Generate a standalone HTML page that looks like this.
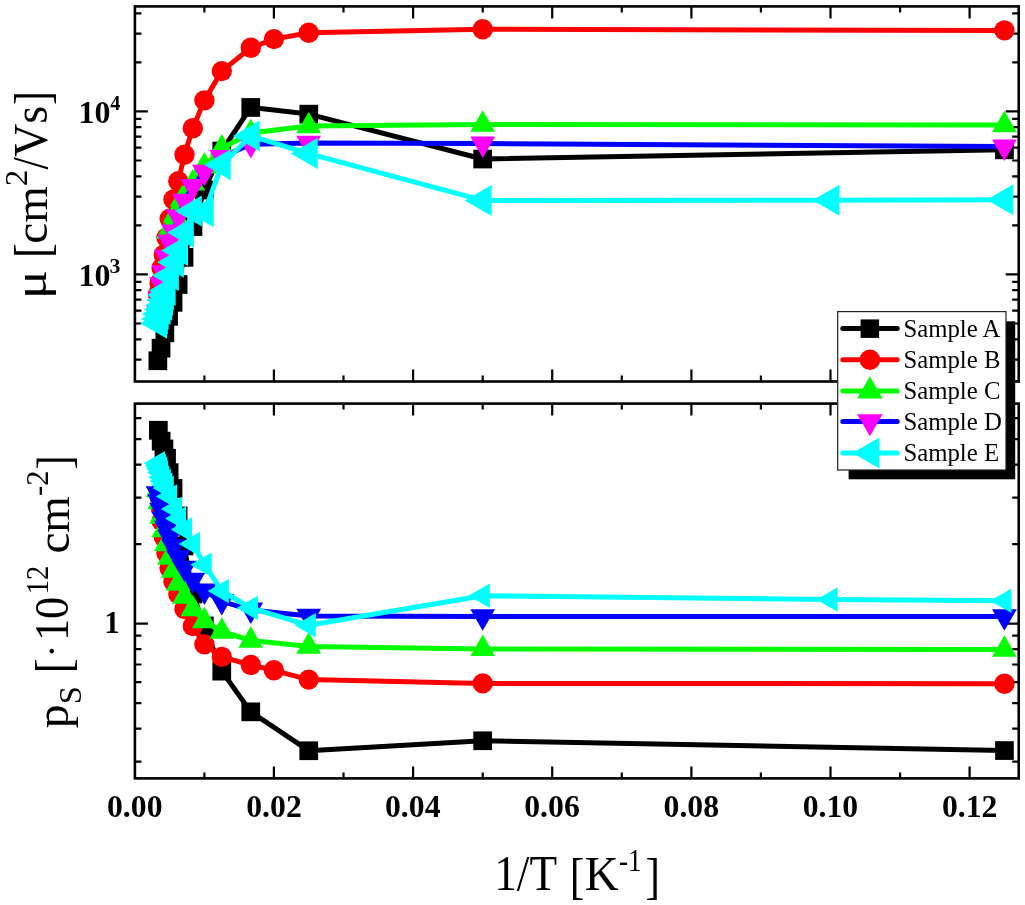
<!DOCTYPE html>
<html><head><meta charset="utf-8"><title>Mobility and sheet carrier density vs 1/T</title>
<style>
html,body{margin:0;padding:0;background:#fff}
svg{display:block}
.s{font-family:"Liberation Serif","DejaVu Serif",serif;fill:#000}
.b{font-family:"Liberation Serif","DejaVu Serif",serif;font-weight:bold;fill:#000}
</style></head><body>
<svg width="1025" height="905" viewBox="0 0 1025 905">
<rect width="1025" height="905" fill="#fff"/>
<g id="top">
<rect x="134.9" y="6.4" width="883.8" height="375.1" fill="none" stroke="#000" stroke-width="2.6"/>
<path d="M204.4 6.4v6M204.4 381.5v-6M273.9 6.4v12M273.9 381.5v-12M343.5 6.4v6M343.5 381.5v-6M413.1 6.4v12M413.1 381.5v-12M482.7 6.4v6M482.7 381.5v-6M552.2 6.4v12M552.2 381.5v-12M621.8 6.4v6M621.8 381.5v-6M691.4 6.4v12M691.4 381.5v-12M760.9 6.4v6M760.9 381.5v-6M830.5 6.4v12M830.5 381.5v-12M900.1 6.4v6M900.1 381.5v-6M969.6 6.4v12M969.6 381.5v-12M134.9 111.4h13M1018.7 111.4h-13M134.9 274.4h13M1018.7 274.4h-13M134.9 359.6h6.5M1018.7 359.6h-6.5M134.9 339.3h6.5M1018.7 339.3h-6.5M134.9 323.5h6.5M1018.7 323.5h-6.5M134.9 310.6h6.5M1018.7 310.6h-6.5M134.9 299.6h6.5M1018.7 299.6h-6.5M134.9 290.2h6.5M1018.7 290.2h-6.5M134.9 281.9h6.5M1018.7 281.9h-6.5M134.9 225.3h6.5M1018.7 225.3h-6.5M134.9 196.6h6.5M1018.7 196.6h-6.5M134.9 176.3h6.5M1018.7 176.3h-6.5M134.9 160.5h6.5M1018.7 160.5h-6.5M134.9 147.6h6.5M1018.7 147.6h-6.5M134.9 136.6h6.5M1018.7 136.6h-6.5M134.9 127.2h6.5M1018.7 127.2h-6.5M134.9 118.9h6.5M1018.7 118.9h-6.5M134.9 62.3h6.5M1018.7 62.3h-6.5M134.9 33.6h6.5M1018.7 33.6h-6.5M134.9 13.3h6.5M1018.7 13.3h-6.5" stroke="#000" stroke-width="2.2" fill="none"/>
<polyline fill="none" stroke="#000" stroke-width="5.0" stroke-linejoin="round" points="157.8,360.8 161.0,348.1 164.8,332.9 168.6,316.4 173.0,302.4 178.1,284.6 184.0,257.3 192.9,226.5 204.4,190.0 221.8,151.0 250.8,107.4 308.7,114.1 482.7,159.0 1004.4,149.8"/>
<rect x="148.5" y="351.4" width="18.7" height="18.7" fill="#000"/>
<rect x="151.7" y="338.8" width="18.7" height="18.7" fill="#000"/>
<rect x="155.5" y="323.5" width="18.7" height="18.7" fill="#000"/>
<rect x="159.2" y="307.0" width="18.7" height="18.7" fill="#000"/>
<rect x="163.7" y="293.0" width="18.7" height="18.7" fill="#000"/>
<rect x="168.8" y="275.2" width="18.7" height="18.7" fill="#000"/>
<rect x="174.7" y="248.0" width="18.7" height="18.7" fill="#000"/>
<rect x="183.6" y="217.2" width="18.7" height="18.7" fill="#000"/>
<rect x="195.0" y="180.7" width="18.7" height="18.7" fill="#000"/>
<rect x="212.4" y="141.7" width="18.7" height="18.7" fill="#000"/>
<rect x="241.4" y="98.1" width="18.7" height="18.7" fill="#000"/>
<rect x="299.4" y="104.8" width="18.7" height="18.7" fill="#000"/>
<rect x="473.3" y="149.7" width="18.7" height="18.7" fill="#000"/>
<rect x="995.1" y="140.5" width="18.7" height="18.7" fill="#000"/>
<polyline fill="none" stroke="#f00" stroke-width="5.0" stroke-linejoin="round" points="158.0,294.0 159.6,283.0 161.6,268.0 163.8,254.8 166.4,237.6 169.6,218.6 173.5,199.5 178.3,181.3 184.5,154.7 192.8,128.2 204.4,100.4 221.8,71.1 250.8,47.8 273.9,39.1 308.7,32.8 482.7,29.3 1004.4,30.4"/>
<circle cx="158.0" cy="294.0" r="10.2" fill="#f00"/>
<circle cx="159.6" cy="283.0" r="10.2" fill="#f00"/>
<circle cx="161.6" cy="268.0" r="10.2" fill="#f00"/>
<circle cx="163.8" cy="254.8" r="10.2" fill="#f00"/>
<circle cx="166.4" cy="237.6" r="10.2" fill="#f00"/>
<circle cx="169.6" cy="218.6" r="10.2" fill="#f00"/>
<circle cx="173.5" cy="199.5" r="10.2" fill="#f00"/>
<circle cx="178.3" cy="181.3" r="10.2" fill="#f00"/>
<circle cx="184.5" cy="154.7" r="10.2" fill="#f00"/>
<circle cx="192.8" cy="128.2" r="10.2" fill="#f00"/>
<circle cx="204.4" cy="100.4" r="10.2" fill="#f00"/>
<circle cx="221.8" cy="71.1" r="10.2" fill="#f00"/>
<circle cx="250.8" cy="47.8" r="10.2" fill="#f00"/>
<circle cx="273.9" cy="39.1" r="10.2" fill="#f00"/>
<circle cx="308.7" cy="32.8" r="10.2" fill="#f00"/>
<circle cx="482.7" cy="29.3" r="10.2" fill="#f00"/>
<circle cx="1004.4" cy="30.4" r="10.2" fill="#f00"/>
<polyline fill="none" stroke="#0f0" stroke-width="5.0" stroke-linejoin="round" points="168.3,231.5 175.0,215.3 182.0,199.5 192.8,183.3 204.4,166.3 221.8,148.3 250.8,133.0 308.7,126.0 482.7,124.5 1004.4,125.0"/>
<polygon fill="#0f0" points="168.3,217.2 155.9,238.7 180.7,238.7"/>
<polygon fill="#0f0" points="175.0,201.0 162.6,222.5 187.4,222.5"/>
<polygon fill="#0f0" points="182.0,185.2 169.6,206.7 194.4,206.7"/>
<polygon fill="#0f0" points="192.8,169.0 180.4,190.5 205.2,190.5"/>
<polygon fill="#0f0" points="204.4,152.0 192.0,173.5 216.8,173.5"/>
<polygon fill="#0f0" points="221.8,134.0 209.4,155.5 234.2,155.5"/>
<polygon fill="#0f0" points="250.8,118.7 238.3,140.2 263.1,140.2"/>
<polygon fill="#0f0" points="308.7,111.7 296.3,133.2 321.1,133.2"/>
<polygon fill="#0f0" points="482.7,110.2 470.3,131.7 495.1,131.7"/>
<polygon fill="#0f0" points="1004.4,110.7 992.0,132.2 1016.8,132.2"/>
<polyline fill="none" stroke="#00f" stroke-width="5.0" stroke-linejoin="round" points="158.0,312.0 159.6,299.0 161.6,284.4 163.8,272.4 166.4,257.0 169.6,241.6 173.5,231.7 178.3,216.8 184.5,201.0 192.8,186.1 204.4,172.0 221.8,157.1 250.8,144.2 308.7,143.0 482.7,143.6 1004.4,146.6"/>
<polygon fill="#f0f" points="158.0,326.3 145.6,304.8 170.4,304.8"/>
<polygon fill="#f0f" points="159.6,313.3 147.2,291.8 172.0,291.8"/>
<polygon fill="#f0f" points="161.6,298.7 149.2,277.2 174.0,277.2"/>
<polygon fill="#f0f" points="163.8,286.7 151.4,265.2 176.2,265.2"/>
<polygon fill="#f0f" points="166.4,271.3 154.0,249.8 178.8,249.8"/>
<polygon fill="#f0f" points="169.6,255.9 157.2,234.4 182.0,234.4"/>
<polygon fill="#f0f" points="173.5,246.0 161.1,224.5 185.9,224.5"/>
<polygon fill="#f0f" points="178.3,231.1 165.9,209.6 190.7,209.6"/>
<polygon fill="#f0f" points="184.5,215.3 172.1,193.8 196.9,193.8"/>
<polygon fill="#f0f" points="192.8,200.4 180.4,178.9 205.2,178.9"/>
<polygon fill="#f0f" points="204.4,186.3 192.0,164.8 216.8,164.8"/>
<polygon fill="#f0f" points="221.8,171.4 209.4,149.9 234.2,149.9"/>
<polygon fill="#f0f" points="250.8,158.5 238.3,137.0 263.1,137.0"/>
<polygon fill="#f0f" points="308.7,157.3 296.3,135.8 321.1,135.8"/>
<polygon fill="#f0f" points="482.7,157.9 470.3,136.4 495.1,136.4"/>
<polygon fill="#f0f" points="1004.4,160.9 992.0,139.4 1016.8,139.4"/>
<polyline fill="none" stroke="#0ff" stroke-width="5.0" stroke-linejoin="round" points="158.1,323.3 159.0,319.0 159.8,313.9 161.6,309.6 163.3,305.3 164.1,300.2 165.0,295.0 166.7,290.5 170.0,275.5 175.0,262.2 179.1,250.6 184.9,232.4 192.9,211.0 204.8,211.7 221.8,164.7 250.8,136.0 308.7,153.6 482.7,200.4 830.5,200.2 1004.4,199.8"/>
<polygon fill="#0ff" points="140.2,323.3 167.0,307.8 167.0,338.8"/>
<polygon fill="#0ff" points="141.1,319.0 167.9,303.5 167.9,334.5"/>
<polygon fill="#0ff" points="141.9,313.9 168.7,298.4 168.7,329.4"/>
<polygon fill="#0ff" points="143.7,309.6 170.5,294.1 170.5,325.1"/>
<polygon fill="#0ff" points="145.4,305.3 172.2,289.8 172.2,320.8"/>
<polygon fill="#0ff" points="146.2,300.2 173.0,284.7 173.0,315.7"/>
<polygon fill="#0ff" points="147.1,295.0 173.9,279.5 173.9,310.5"/>
<polygon fill="#0ff" points="148.8,290.5 175.6,275.0 175.6,306.0"/>
<polygon fill="#0ff" points="152.1,275.5 178.9,260.0 178.9,291.0"/>
<polygon fill="#0ff" points="157.1,262.2 183.9,246.7 183.9,277.7"/>
<polygon fill="#0ff" points="161.2,250.6 188.0,235.1 188.0,266.1"/>
<polygon fill="#0ff" points="167.0,232.4 193.8,216.9 193.8,247.9"/>
<polygon fill="#0ff" points="175.0,211.0 201.8,195.5 201.8,226.5"/>
<polygon fill="#0ff" points="186.9,211.7 213.7,196.2 213.7,227.2"/>
<polygon fill="#0ff" points="203.9,164.7 230.7,149.2 230.7,180.2"/>
<polygon fill="#0ff" points="232.9,136.0 259.7,120.5 259.7,151.5"/>
<polygon fill="#0ff" points="290.8,153.6 317.7,138.1 317.7,169.1"/>
<polygon fill="#0ff" points="464.8,200.4 491.6,184.9 491.6,215.9"/>
<polygon fill="#0ff" points="812.6,200.2 839.4,184.7 839.4,215.7"/>
<polygon fill="#0ff" points="986.5,199.8 1013.4,184.3 1013.4,215.3"/>
</g>
<g id="bot">
<rect x="134.9" y="403.6" width="883.8" height="374.8" fill="none" stroke="#000" stroke-width="2.6"/>
<path d="M204.4 403.6v6M204.4 778.4v-6M273.9 403.6v12M273.9 778.4v-12M343.5 403.6v6M343.5 778.4v-6M413.1 403.6v12M413.1 778.4v-12M482.7 403.6v6M482.7 778.4v-6M552.2 403.6v12M552.2 778.4v-12M621.8 403.6v6M621.8 778.4v-6M691.4 403.6v12M691.4 778.4v-12M760.9 403.6v6M760.9 778.4v-6M830.5 403.6v12M830.5 778.4v-12M900.1 403.6v6M900.1 778.4v-6M969.6 403.6v12M969.6 778.4v-12M134.9 623.6h13M1018.7 623.6h-13M134.9 761.6h6.5M1018.7 761.6h-6.5M134.9 728.7h6.5M1018.7 728.7h-6.5M134.9 703.1h6.5M1018.7 703.1h-6.5M134.9 682.2h6.5M1018.7 682.2h-6.5M134.9 664.5h6.5M1018.7 664.5h-6.5M134.9 649.2h6.5M1018.7 649.2h-6.5M134.9 635.7h6.5M1018.7 635.7h-6.5M134.9 544.1h6.5M1018.7 544.1h-6.5M134.9 497.6h6.5M1018.7 497.6h-6.5M134.9 464.7h6.5M1018.7 464.7h-6.5M134.9 439.1h6.5M1018.7 439.1h-6.5M134.9 418.2h6.5M1018.7 418.2h-6.5" stroke="#000" stroke-width="2.2" fill="none"/>
<polyline fill="none" stroke="#000" stroke-width="5.0" stroke-linejoin="round" points="158.3,430.3 161.2,441.1 163.9,449.0 166.6,458.3 169.2,472.7 173.0,488.5 178.1,516.0 184.0,546.0 192.9,594.0 204.4,626.0 221.8,671.1 250.8,711.9 308.7,750.7 482.7,740.8 1004.4,750.6"/>
<rect x="149.0" y="420.9" width="18.7" height="18.7" fill="#000"/>
<rect x="151.8" y="431.8" width="18.7" height="18.7" fill="#000"/>
<rect x="154.6" y="439.6" width="18.7" height="18.7" fill="#000"/>
<rect x="157.2" y="448.9" width="18.7" height="18.7" fill="#000"/>
<rect x="159.8" y="463.3" width="18.7" height="18.7" fill="#000"/>
<rect x="163.7" y="479.1" width="18.7" height="18.7" fill="#000"/>
<rect x="168.8" y="506.6" width="18.7" height="18.7" fill="#000"/>
<rect x="174.7" y="536.6" width="18.7" height="18.7" fill="#000"/>
<rect x="183.6" y="584.6" width="18.7" height="18.7" fill="#000"/>
<rect x="195.0" y="616.6" width="18.7" height="18.7" fill="#000"/>
<rect x="212.4" y="661.8" width="18.7" height="18.7" fill="#000"/>
<rect x="241.4" y="702.5" width="18.7" height="18.7" fill="#000"/>
<rect x="299.4" y="741.4" width="18.7" height="18.7" fill="#000"/>
<rect x="473.3" y="731.4" width="18.7" height="18.7" fill="#000"/>
<rect x="995.1" y="741.2" width="18.7" height="18.7" fill="#000"/>
<polyline fill="none" stroke="#f00" stroke-width="5.0" stroke-linejoin="round" points="160.0,498.5 160.9,508.5 161.6,521.0 163.8,537.0 166.4,553.0 169.6,568.0 173.5,581.5 178.3,594.0 184.5,609.0 192.8,626.0 204.4,644.4 221.8,656.9 250.8,665.0 273.9,670.3 308.7,679.6 482.7,683.4 1004.4,683.8"/>
<circle cx="160.0" cy="498.5" r="10.2" fill="#f00"/>
<circle cx="160.9" cy="508.5" r="10.2" fill="#f00"/>
<circle cx="161.6" cy="521.0" r="10.2" fill="#f00"/>
<circle cx="163.8" cy="537.0" r="10.2" fill="#f00"/>
<circle cx="166.4" cy="553.0" r="10.2" fill="#f00"/>
<circle cx="169.6" cy="568.0" r="10.2" fill="#f00"/>
<circle cx="173.5" cy="581.5" r="10.2" fill="#f00"/>
<circle cx="178.3" cy="594.0" r="10.2" fill="#f00"/>
<circle cx="184.5" cy="609.0" r="10.2" fill="#f00"/>
<circle cx="192.8" cy="626.0" r="10.2" fill="#f00"/>
<circle cx="204.4" cy="644.4" r="10.2" fill="#f00"/>
<circle cx="221.8" cy="656.9" r="10.2" fill="#f00"/>
<circle cx="250.8" cy="665.0" r="10.2" fill="#f00"/>
<circle cx="273.9" cy="670.3" r="10.2" fill="#f00"/>
<circle cx="308.7" cy="679.6" r="10.2" fill="#f00"/>
<circle cx="482.7" cy="683.4" r="10.2" fill="#f00"/>
<circle cx="1004.4" cy="683.8" r="10.2" fill="#f00"/>
<polyline fill="none" stroke="#0f0" stroke-width="5.0" stroke-linejoin="round" points="158.0,490.0 159.6,502.0 161.6,516.5 163.8,530.0 166.4,544.0 169.6,557.5 173.5,570.5 178.3,583.5 184.5,596.5 192.8,609.0 204.4,621.0 221.8,631.5 250.8,640.5 308.7,646.5 482.7,648.9 1004.4,649.5"/>
<polygon fill="#0f0" points="158.0,475.7 145.6,497.2 170.4,497.2"/>
<polygon fill="#0f0" points="159.6,487.7 147.2,509.2 172.0,509.2"/>
<polygon fill="#0f0" points="161.6,502.2 149.2,523.7 174.0,523.7"/>
<polygon fill="#0f0" points="163.8,515.7 151.4,537.2 176.2,537.2"/>
<polygon fill="#0f0" points="166.4,529.7 154.0,551.2 178.8,551.2"/>
<polygon fill="#0f0" points="169.6,543.2 157.2,564.7 182.0,564.7"/>
<polygon fill="#0f0" points="173.5,556.2 161.1,577.7 185.9,577.7"/>
<polygon fill="#0f0" points="178.3,569.2 165.9,590.7 190.7,590.7"/>
<polygon fill="#0f0" points="184.5,582.2 172.1,603.7 196.9,603.7"/>
<polygon fill="#0f0" points="192.8,594.7 180.4,616.2 205.2,616.2"/>
<polygon fill="#0f0" points="204.4,606.7 192.0,628.2 216.8,628.2"/>
<polygon fill="#0f0" points="221.8,617.2 209.4,638.7 234.2,638.7"/>
<polygon fill="#0f0" points="250.8,626.2 238.3,647.7 263.1,647.7"/>
<polygon fill="#0f0" points="308.7,632.2 296.3,653.7 321.1,653.7"/>
<polygon fill="#0f0" points="482.7,634.6 470.3,656.1 495.1,656.1"/>
<polygon fill="#0f0" points="1004.4,635.2 992.0,656.7 1016.8,656.7"/>
<polyline fill="none" stroke="#00f" stroke-width="5.0" stroke-linejoin="round" points="158.0,493.4 159.6,501.5 161.6,510.0 163.8,519.0 166.4,528.0 169.6,537.0 173.5,546.5 178.3,557.0 184.5,568.0 192.8,580.0 204.4,590.7 221.8,601.3 250.8,609.8 308.7,616.0 482.7,616.4 1004.4,616.4"/>
<polygon fill="#00f" points="158.0,507.7 145.6,486.2 170.4,486.2"/>
<polygon fill="#00f" points="159.6,515.8 147.2,494.3 172.0,494.3"/>
<polygon fill="#00f" points="161.6,524.3 149.2,502.8 174.0,502.8"/>
<polygon fill="#00f" points="163.8,533.3 151.4,511.8 176.2,511.8"/>
<polygon fill="#00f" points="166.4,542.3 154.0,520.8 178.8,520.8"/>
<polygon fill="#00f" points="169.6,551.3 157.2,529.8 182.0,529.8"/>
<polygon fill="#00f" points="173.5,560.8 161.1,539.3 185.9,539.3"/>
<polygon fill="#00f" points="178.3,571.3 165.9,549.8 190.7,549.8"/>
<polygon fill="#00f" points="184.5,582.3 172.1,560.8 196.9,560.8"/>
<polygon fill="#00f" points="192.8,594.3 180.4,572.8 205.2,572.8"/>
<polygon fill="#00f" points="204.4,605.0 192.0,583.5 216.8,583.5"/>
<polygon fill="#00f" points="221.8,615.6 209.4,594.1 234.2,594.1"/>
<polygon fill="#00f" points="250.8,624.1 238.3,602.6 263.1,602.6"/>
<polygon fill="#00f" points="308.7,630.3 296.3,608.8 321.1,608.8"/>
<polygon fill="#00f" points="482.7,630.7 470.3,609.2 495.1,609.2"/>
<polygon fill="#00f" points="1004.4,630.7 992.0,609.2 1016.8,609.2"/>
<polyline fill="none" stroke="#0ff" stroke-width="5.0" stroke-linejoin="round" points="157.9,463.2 159.0,466.0 160.1,468.9 161.0,472.5 162.3,477.5 163.7,481.1 165.2,484.7 166.7,488.0 170.0,496.5 175.0,509.0 179.1,518.5 184.9,529.5 192.9,544.0 204.5,564.7 221.8,591.0 250.8,608.0 308.7,625.3 482.7,595.8 830.5,599.5 1004.4,600.7"/>
<polygon fill="#0ff" points="143.7,463.2 165.0,450.9 165.0,475.5"/>
<polygon fill="#0ff" points="144.8,466.0 166.1,453.7 166.1,478.3"/>
<polygon fill="#0ff" points="145.9,468.9 167.2,456.6 167.2,481.2"/>
<polygon fill="#0ff" points="146.8,472.5 168.1,460.2 168.1,484.8"/>
<polygon fill="#0ff" points="148.1,477.5 169.4,465.2 169.4,489.8"/>
<polygon fill="#0ff" points="149.5,481.1 170.8,468.8 170.8,493.4"/>
<polygon fill="#0ff" points="151.0,484.7 172.3,472.4 172.3,497.0"/>
<polygon fill="#0ff" points="152.5,488.0 173.8,475.7 173.8,500.3"/>
<polygon fill="#0ff" points="155.8,496.5 177.1,484.2 177.1,508.8"/>
<polygon fill="#0ff" points="160.8,509.0 182.1,496.7 182.1,521.3"/>
<polygon fill="#0ff" points="164.9,518.5 186.2,506.2 186.2,530.8"/>
<polygon fill="#0ff" points="170.7,529.5 192.0,517.2 192.0,541.8"/>
<polygon fill="#0ff" points="178.7,544.0 200.0,531.7 200.0,556.3"/>
<polygon fill="#0ff" points="190.3,564.7 211.6,552.4 211.6,577.0"/>
<polygon fill="#0ff" points="207.6,591.0 228.9,578.7 228.9,603.3"/>
<polygon fill="#0ff" points="236.5,608.0 257.9,595.7 257.9,620.3"/>
<polygon fill="#0ff" points="294.5,625.3 315.8,613.0 315.8,637.6"/>
<polygon fill="#0ff" points="468.4,595.8 489.8,583.5 489.8,608.1"/>
<polygon fill="#0ff" points="816.3,599.5 837.6,587.2 837.6,611.8"/>
<polygon fill="#0ff" points="990.2,600.7 1011.5,588.4 1011.5,613.0"/>
</g>
<g id="legend">
<rect x="848.6" y="321.3" width="166.6" height="158" fill="#000"/>
<rect x="837.7" y="311.6" width="168.3" height="158.4" fill="#fff" stroke="#222" stroke-width="1.2"/>
<line x1="842.8" x2="897.2" y1="328.6" y2="328.6" stroke="#000" stroke-width="5" stroke-linecap="round"/>
<line x1="842.8" x2="897.2" y1="359.7" y2="359.7" stroke="#f00" stroke-width="5" stroke-linecap="round"/>
<line x1="842.8" x2="897.2" y1="391.0" y2="391.0" stroke="#0f0" stroke-width="5" stroke-linecap="round"/>
<line x1="842.8" x2="897.2" y1="421.6" y2="421.6" stroke="#00f" stroke-width="5" stroke-linecap="round"/>
<line x1="842.8" x2="897.2" y1="453.0" y2="453.0" stroke="#0ff" stroke-width="5" stroke-linecap="round"/>
<rect x="860.6" y="319.4" width="18.5" height="18.5" fill="#000"/>
<circle cx="869.9" cy="359.7" r="10.3" fill="#f00"/>
<polygon fill="#0f0" points="869.9,376.3 857.1,398.4 882.6,398.4"/>
<polygon fill="#f0f" points="869.9,436.3 857.1,414.2 882.6,414.2"/>
<polygon fill="#0ff" points="852.6,453.0 879.4,437.5 879.4,468.5"/>
</g>
<text transform="translate(494.21,890.17) scale(0.9627,1.0635)" font-size="47" class="s">1/T</text>
<text transform="translate(569.83,892.84) scale(0.9333,1.0813)" font-size="47" class="s">[</text>
<text transform="translate(584.75,890.40) scale(0.9984,1.0179)" font-size="47" class="s">K</text>
<text transform="translate(619.00,870.90) scale(0.8791,1.0244)" font-size="31" class="s">-1</text>
<text transform="translate(645.38,892.84) scale(0.9238,1.0813)" font-size="47" class="s">]</text>
<text transform="translate(78.46,123.05) scale(1.0162,1.0071)" font-size="31.5" class="b">10</text>
<text transform="translate(110.16,110.00) scale(0.9789,1.0370)" font-size="20.5" class="b">4</text>
<text transform="translate(78.46,286.15) scale(1.0162,1.0118)" font-size="31.5" class="b">10</text>
<text transform="translate(109.60,272.85) scale(1.0629,1.0182)" font-size="20.5" class="b">3</text>
<text transform="translate(104.14,632.80) scale(0.9826,1.0217)" font-size="31.5" class="b">1</text>
<text transform="translate(903.47,336.80) scale(0.9906,0.9911)" font-size="25" class="s">Sample A</text>
<text transform="translate(903.47,367.90) scale(0.9906,0.9911)" font-size="25" class="s">Sample B</text>
<text transform="translate(903.47,399.20) scale(0.9906,0.9911)" font-size="25" class="s">Sample C</text>
<text transform="translate(903.47,429.80) scale(0.9906,0.9911)" font-size="25" class="s">Sample D</text>
<text transform="translate(903.47,461.20) scale(0.9906,0.9911)" font-size="25" class="s">Sample E</text>
<text transform="translate(45.92,298.91) rotate(-90) scale(1.1487,0.9778)" font-size="47" class="s">μ</text>
<text transform="translate(49.04,258.10) rotate(-90) scale(0.9429,1.0658)" font-size="47" class="s">[</text>
<text transform="translate(46.80,243.65) rotate(-90) scale(1.0018,0.9956)" font-size="47" class="s">cm</text>
<text transform="translate(26.90,186.14) rotate(-90) scale(1.0720,1.0195)" font-size="31" class="s">2</text>
<text transform="translate(46.97,169.40) rotate(-90) scale(0.9462,1.0667)" font-size="47" class="s">/</text>
<text transform="translate(46.53,157.09) rotate(-90) scale(0.9840,1.0286)" font-size="47" class="s">Vs</text>
<text transform="translate(49.04,104.97) rotate(-90) scale(0.8952,1.0658)" font-size="47" class="s">]</text>
<text transform="translate(68.23,728.36) rotate(-90) scale(1.0190,0.9969)" font-size="47" class="s">p</text>
<text transform="translate(80.84,704.30) rotate(-90) scale(1.0491,1.0506)" font-size="31" class="s">S</text>
<text transform="translate(70.04,673.23) rotate(-90) scale(0.9524,1.0658)" font-size="47" class="s">[</text>
<text transform="translate(64.23,657.59) rotate(-90) scale(0.8182,0.8182)" font-size="47" class="s">·</text>
<text transform="translate(68.48,641.12) rotate(-90) scale(0.9463,1.0425)" font-size="47" class="s">10</text>
<text transform="translate(48.30,594.32) rotate(-90) scale(0.9170,1.0195)" font-size="31" class="s">12</text>
<text transform="translate(68.50,553.55) rotate(-90) scale(1.0000,1.0089)" font-size="47" class="s">cm</text>
<text transform="translate(48.30,496.03) rotate(-90) scale(0.9846,1.0195)" font-size="31" class="s">-2</text>
<text transform="translate(70.12,469.47) rotate(-90) scale(0.8952,1.0529)" font-size="47" class="s">]</text>
<text transform="translate(106.94,817.20) scale(1.0085,1.0000)" font-size="31.5" class="b">0.00</text>
<text transform="translate(246.21,817.20) scale(1.0085,1.0000)" font-size="31.5" class="b">0.02</text>
<text transform="translate(384.97,817.20) scale(1.0085,1.0000)" font-size="31.5" class="b">0.04</text>
<text transform="translate(524.23,817.20) scale(1.0085,1.0000)" font-size="31.5" class="b">0.06</text>
<text transform="translate(663.50,817.20) scale(1.0085,1.0000)" font-size="31.5" class="b">0.08</text>
<text transform="translate(802.64,817.20) scale(1.0085,1.0000)" font-size="31.5" class="b">0.10</text>
<text transform="translate(941.91,817.20) scale(1.0085,1.0000)" font-size="31.5" class="b">0.12</text>
</svg>
</body></html>
